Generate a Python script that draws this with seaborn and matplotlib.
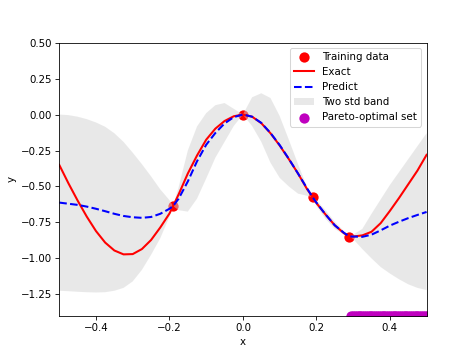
import numpy as np
import pandas as pd
import matplotlib
matplotlib.use("Agg")
import matplotlib.pyplot as plt
import seaborn as sns

x_grid = [-0.500, -0.475, -0.450, -0.425, -0.400, -0.375, -0.350, -0.325, -0.300,
          -0.275, -0.250, -0.225, -0.200, -0.190, -0.175, -0.150, -0.125, -0.100,
          -0.075, -0.050, -0.025, 0.000, 0.025, 0.050, 0.075, 0.100, 0.125,
          0.150, 0.175, 0.190, 0.200, 0.225, 0.250, 0.275, 0.290, 0.300,
          0.325, 0.350, 0.375, 0.400, 0.425, 0.450, 0.475, 0.500]

y_exact = [-0.350, -0.478, -0.598, -0.710, -0.810, -0.890, -0.945, -0.972, -0.970,
           -0.935, -0.872, -0.785, -0.688, -0.636, -0.555, -0.410, -0.285, -0.175,
           -0.098, -0.045, -0.012, 0.000, -0.015, -0.060, -0.130, -0.215, -0.310,
           -0.410, -0.520, -0.575, -0.615, -0.695, -0.770, -0.825, -0.848, -0.848,
           -0.840, -0.815, -0.755, -0.670, -0.580, -0.485, -0.390, -0.280]

y_pred = [-0.612, -0.620, -0.628, -0.640, -0.655, -0.672, -0.690, -0.705, -0.714,
          -0.718, -0.712, -0.690, -0.655, -0.636, -0.585, -0.465, -0.325, -0.210,
          -0.128, -0.062, -0.018, 0.000, -0.015, -0.058, -0.128, -0.212, -0.308,
          -0.410, -0.515, -0.575, -0.612, -0.695, -0.770, -0.822, -0.848, -0.848,
          -0.850, -0.835, -0.805, -0.772, -0.745, -0.720, -0.698, -0.677]

band_upper = [0.000, -0.004, -0.015, -0.032, -0.055, -0.085, -0.130, -0.190, -0.265,
              -0.345, -0.430, -0.520, -0.595, -0.636, -0.505, -0.250, -0.083, 0.010,
              0.065, 0.080, 0.040, 0.000, 0.120, 0.148, 0.115, -0.010, -0.175,
              -0.345, -0.505, -0.575, -0.595, -0.665, -0.745, -0.810, -0.848, -0.835,
              -0.795, -0.690, -0.590, -0.490, -0.400, -0.310, -0.220, -0.130]

band_lower = [-1.225, -1.228, -1.232, -1.235, -1.237, -1.235, -1.225, -1.205, -1.160,
              -1.080, -0.975, -0.860, -0.710, -0.636, -0.665, -0.675, -0.585, -0.445,
              -0.300, -0.190, -0.080, 0.000, -0.080, -0.190, -0.335, -0.440, -0.500,
              -0.550, -0.565, -0.575, -0.635, -0.725, -0.795, -0.835, -0.848, -0.865,
              -0.935, -1.000, -1.060, -1.105, -1.145, -1.180, -1.205, -1.220]

train_x = [-0.19, 0.0, 0.19, 0.29]
train_y = [-0.636, 0.0, -0.575, -0.848]

pareto_x = [0.295, 0.300, 0.305, 0.310, 0.315, 0.320, 0.325, 0.330, 0.335, 0.340,
            0.345, 0.350, 0.355, 0.360, 0.365, 0.370, 0.375, 0.380, 0.385, 0.390,
            0.395, 0.400, 0.405, 0.410, 0.415, 0.420, 0.425, 0.430, 0.435, 0.440,
            0.445, 0.450, 0.455, 0.460, 0.465, 0.470, 0.475, 0.480, 0.485, 0.490,
            0.495, 0.500]
pareto_y = [-1.4] * len(pareto_x)

df = pd.DataFrame({"x": x_grid, "exact": y_exact, "pred": y_pred,
                   "upper": band_upper, "lower": band_lower})

fig, ax = plt.subplots(figsize=(474 / 74, 355 / 74), dpi=74)

sns.scatterplot(x=train_x, y=train_y, color="r", s=100, linewidth=0,
                label="Training data", ax=ax)
sns.lineplot(data=df, x="x", y="exact", color="r", lw=2, sort=False,
             estimator=None, label="Exact", ax=ax)
sns.lineplot(data=df, x="x", y="pred", color="b", lw=2, linestyle="--",
             sort=False, estimator=None, label="Predict", ax=ax)
ax.fill_between(df["x"], df["lower"], df["upper"], facecolor="lightgrey",
                alpha=0.5, label="Two std band")
sns.scatterplot(x=pareto_x, y=pareto_y, color="m", s=100, linewidth=0,
                label="Pareto-optimal set", ax=ax)

ax.set_xlim(-0.5, 0.5)
ax.set_ylim(-1.4, 0.5)
ax.set_xlabel("x")
ax.set_ylabel("y")
ax.legend(loc="upper right")

fig.savefig("out.png", dpi=74)
